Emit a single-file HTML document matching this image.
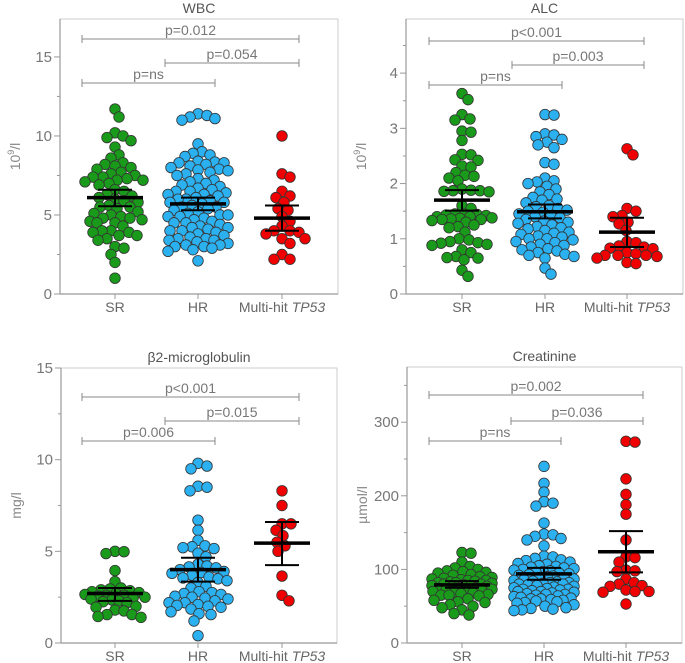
<!DOCTYPE html>
<html><head><meta charset="utf-8">
<style>
html,body{margin:0;padding:0;background:#fff;}
svg{display:block;font-family:"Liberation Sans",sans-serif;}
</style></head>
<body>
<svg id="chart" width="685" height="663" viewBox="0 0 685 663"></svg>
<script>
const categories = ["SR","HR","Multi-hit TP53"];
// WBC
const wbcSR=[11.7,11.2,10.2,10,9.9,9.7,9.3,8.8,8.6,8.3,8.2,8.1,8.0,7.9,7.7,7.6,7.5,7.4,7.4,7.3,7.2,7.2,7.1,7.0,6.9,6.6,6.5,6.3,6.2,6.1,6.0,5.9,5.8,5.6,5.5,5.5,5.4,5.2,5.1,5.0,4.9,4.8,4.8,4.7,4.6,4.5,4.5,4.3,4.0,4.0,3.9,3.9,3.7,3.7,3.5,3.4,3.0,2.9,2.5,2.0,1.0];
const wbcHR=[11.4,11.3,11.2,11.1,11.0,9.5,9.0,8.9,8.8,8.7,8.4,8.35,8.3,8.3,8.2,8.1,8.0,7.9,7.85,7.8,7.7,7.6,7.5,7.3,7.2,7.1,7.0,6.9,6.8,6.7,6.6,6.5,6.5,6.4,6.3,6.3,6.2,6.1,6.0,6.0,5.9,5.8,5.8,5.7,5.6,5.5,5.5,5.4,5.3,5.2,5.1,5.0,5.0,4.9,4.9,4.8,4.7,4.6,4.5,4.5,4.4,4.3,4.2,4.2,4.1,4.0,4.0,3.9,3.8,3.7,3.6,3.5,3.5,3.4,3.4,3.3,3.2,3.1,3.1,3.0,3.0,2.9,2.8,2.7,2.1];
const wbcTP=[10,7.6,7.4,6.5,6.2,6.1,5.8,5.4,5.3,4.9,4.6,4.3,4.0,4.0,3.9,3.8,3.5,3.5,3.2,2.5,2.2,2.2];
const wbcMean=[6.1,5.7,4.8], wbcLo=[5.55,5.3,4.0], wbcHi=[6.6,6.1,5.6];
// ALC
const alcSR=[3.63,3.52,3.25,3.17,3.15,2.95,2.93,2.78,2.53,2.52,2.43,2.42,2.32,2.3,2.2,2.15,2.13,2.1,2.05,1.9,1.88,1.87,1.87,1.86,1.85,1.6,1.55,1.45,1.45,1.44,1.43,1.42,1.4,1.4,1.38,1.37,1.36,1.35,1.35,1.33,1.3,1.25,1.22,1.2,1.12,1.0,0.98,0.95,0.93,0.92,0.9,0.88,0.8,0.75,0.68,0.66,0.65,0.62,0.43,0.32];
const alcHR=[3.25,3.24,2.9,2.88,2.85,2.8,2.75,2.7,2.65,2.38,2.35,2.1,2.05,2.03,2.0,1.95,1.9,1.85,1.8,1.75,1.72,1.7,1.65,1.6,1.58,1.55,1.52,1.5,1.48,1.45,1.42,1.4,1.38,1.35,1.32,1.3,1.28,1.25,1.22,1.2,1.18,1.15,1.12,1.1,1.08,1.05,1.03,1.0,1.0,0.98,0.95,0.93,0.9,0.88,0.85,0.82,0.8,0.78,0.75,0.72,0.7,0.68,0.65,0.47,0.36];
const alcTP=[2.63,2.52,1.55,1.5,1.42,1.4,1.3,1.27,1.15,0.95,0.93,0.87,0.85,0.83,0.82,0.75,0.73,0.7,0.7,0.7,0.68,0.65,0.57,0.55];
const alcMean=[1.7,1.49,1.12], alcLo=[1.51,1.37,0.85], alcHi=[1.88,1.62,1.38];
// B2M
const b2SR=[5.0,4.98,4.88,3.95,3.35,3.0,2.95,2.9,2.85,2.8,2.75,2.7,2.65,2.6,2.6,2.55,2.5,2.45,2.4,2.35,2.3,2.25,2.2,2.0,1.95,1.8,1.75,1.55,1.55,1.45,1.4];
const b2HR=[9.8,9.65,9.5,8.55,8.5,8.3,6.7,6.15,5.6,5.3,5.25,5.2,5.15,4.9,4.7,4.3,4.2,4.15,4.1,4.0,3.9,3.85,3.8,3.7,3.6,3.55,3.5,3.4,3.3,3.1,3.0,2.8,2.75,2.7,2.65,2.55,2.5,2.45,2.4,2.3,2.2,2.2,2.1,2.05,2.0,1.95,1.85,1.7,1.6,1.55,1.2,0.4];
const b2TP=[8.3,7.5,6.5,6.5,6.15,5.85,5.5,5.3,5.0,3.65,2.6,2.3];
const b2Mean=[2.7,4.0,5.45], b2Lo=[2.3,3.35,4.25], b2Hi=[3.0,4.65,6.6];
// Creatinine
const crSR=[123,122,110,104,102,100,98,97,96,95,93,92,90,89,88,87,86,85,85,84,83,82,82,81,80,80,79,78,78,77,76,75,75,74,73,72,71,70,70,69,68,67,66,65,65,64,60,58,56,55,52,50,48,45,40,38];
const crHR=[240,217,205,192,190,186,163,148,147,145,142,140,132,118,117,115,113,112,110,108,107,105,104,103,102,101,100,99,98,97,96,95,94,93,92,91,90,89,88,87,86,85,84,83,82,82,81,80,80,79,78,77,76,75,74,73,73,72,71,70,70,69,68,67,66,66,65,64,63,62,61,60,60,59,58,57,56,55,54,52,50,48,47,46,45,44];
const crTP=[274,273,223,202,188,175,140,117,116,110,99,98,97,87,82,80,78,77,72,70,70,69,53];
const crMean=[79,94,124], crLo=[75,86,96], crHi=[84,102,152];

const pWBC=["p=ns","p=0.054","p=0.012"], pALC=["p=ns","p=0.003","p<0.001"], pB2=["p=0.006","p=0.015","p<0.001"], pCR=["p=ns","p=0.036","p=0.002"];

const NS="http://www.w3.org/2000/svg";
const svg=document.getElementById('chart');
const colors=["#1a9a1a","#2bb0f0","#f00000"];
function mk(tag,attrs,parent){const e=document.createElementNS(NS,tag);for(const k in attrs)e.setAttribute(k,attrs[k]);(parent||svg).appendChild(e);return e;}

function panel(cfg){
  const g=mk('g',{});
  
  
  const {L,T,R,B,max,cx}=cfg;
  const y=v=>B-(v/max)*(B-T);
  const fr=mk('rect',{x:L,y:T,width:R-L,height:B-T,fill:'none',stroke:'#ccc','stroke-width':1},g);
  
  
  mk('line',{x1:L,y1:T,x2:L,y2:B,stroke:'#999','stroke-width':1.2},g);
  mk('line',{x1:L,y1:B,x2:R,y2:B,stroke:'#999','stroke-width':1.2},g);
  for(let v=0;v<=max+1e-9;v+=cfg.minor){
    const major=Math.abs(v/cfg.major-Math.round(v/cfg.major))<1e-6;
    mk('line',{x1:L-(major?6:3),y1:y(v),x2:L,y2:y(v),stroke:'#999'},g);
    if(major){const t=mk('text',{x:L-8,y:y(v)+5,'text-anchor':'end','font-size':15,fill:'#777'},g);t.textContent=String(+v.toFixed(2));
      }
  }
  cx.forEach((x,i)=>{mk('line',{x1:x,y1:B,x2:x,y2:B+5,stroke:'#999'},g);
    const t=mk('text',{x:x,y:B+18,'text-anchor':'middle','font-size':14,fill:'#666'},g);
    if(i===2){t.textContent='Multi-hit ';const s=mk('tspan',{'font-style':'italic'},t);s.textContent='TP53';}else t.textContent=categories[i];
    });
  const ti=mk('text',{x:(L+R)/2,y:T-6,'text-anchor':'middle','font-size':14,fill:'#555'},g);ti.textContent=cfg.title;
  
  const yt=mk('text',{x:0,y:0,'text-anchor':'middle','font-size':14,fill:'#888',transform:`translate(${L-40},${(T+B)/2}) rotate(-90)`},g);
  if(cfg.sup){yt.textContent='10';const s=mk('tspan',{dy:-6,'font-size':9},yt);s.textContent='9';const s2=mk('tspan',{dy:6},yt);s2.textContent='/l';}else yt.textContent=cfg.unit;
  
  const pairs=[[0,1],[1,2],[0,2]];
  pairs.forEach((p,k)=>{const yy=cfg.sigY[k];const x1=cx[p[0]]-33,x2=cx[p[1]]+17;
    const ln=mk('path',{d:`M${x1},${yy-4}V${yy+4}M${x1},${yy}H${x2}M${x2},${yy-4}V${yy+4}`,stroke:'#888',fill:'none','stroke-width':1},g);
    
    const t=mk('text',{x:(x1+x2)/2,y:yy-4,'text-anchor':'middle','font-size':14,fill:'#777'},g);t.textContent=cfg.p[k];
    });
  const r=5.3, need=8.5, W=30;
  cfg.series.forEach((vals,i)=>{
    const sorted=[...vals].sort((a,b)=>b-a);const placed=[];
    sorted.forEach(v=>{const py=y(v);let best=null,bestD=-1,chosen=null;
      for(let s=0;s<=2*W;s++){const off=(s%2?1:-1)*Math.ceil(s/2);const tx=cx[i]+off;
        let md=1e9;placed.forEach(q=>{const d=Math.hypot(q[0]-tx,q[1]-py);if(d<md)md=d;});
        if(md>=need){chosen=tx;break;}
        if(md>bestD){bestD=md;best=tx;}}
      const px=chosen!==null?chosen:best;
      placed.push([px,py]);
      const c=mk('circle',{cx:px,cy:py,r:r,fill:colors[i],stroke:'#333','stroke-width':0.8},g);
      });
  });
  cx.forEach((x,i)=>{
    const e=mk('path',{d:`M${x-17},${y(cfg.lo[i])}H${x+17}M${x-17},${y(cfg.hi[i])}H${x+17}M${x},${y(cfg.lo[i])}V${y(cfg.hi[i])}`,stroke:'#000','stroke-width':2,fill:'none'},g);
    
    const m=mk('line',{x1:x-28,y1:y(cfg.mean[i]),x2:x+28,y2:y(cfg.mean[i]),stroke:'#000','stroke-width':3.5},g);
    
  });
}
panel({name:'wbc',title:'WBC',sup:true,L:60,T:19,R:338,B:294,max:17.4,major:5,minor:2.5,cx:[115,198,282],series:[wbcSR,wbcHR,wbcTP],mean:wbcMean,lo:wbcLo,hi:wbcHi,sigY:[83,63,39],p:pWBC});
panel({name:'alc',title:'ALC',sup:true,L:406,T:19,R:683,B:294,max:4.98,major:1,minor:0.5,cx:[462,545,627],series:[alcSR,alcHR,alcTP],mean:alcMean,lo:alcLo,hi:alcHi,sigY:[85,65,41],p:pALC});
panel({name:'b2m',title:'β2-microglobulin',unit:'mg/l',L:61,T:368,R:337,B:643,max:15,major:5,minor:2.5,cx:[115,198,282],series:[b2SR,b2HR,b2TP],mean:b2Mean,lo:b2Lo,hi:b2Hi,sigY:[441,421,397],p:pB2});
panel({name:'creatinine',title:'Creatinine',unit:'µmol/l',L:407,T:367,R:682,B:643,max:375,major:100,minor:50,cx:[462,544,626],series:[crSR,crHR,crTP],mean:crMean,lo:crLo,hi:crHi,sigY:[441,421,395],p:pCR});
</script>
</body></html>
